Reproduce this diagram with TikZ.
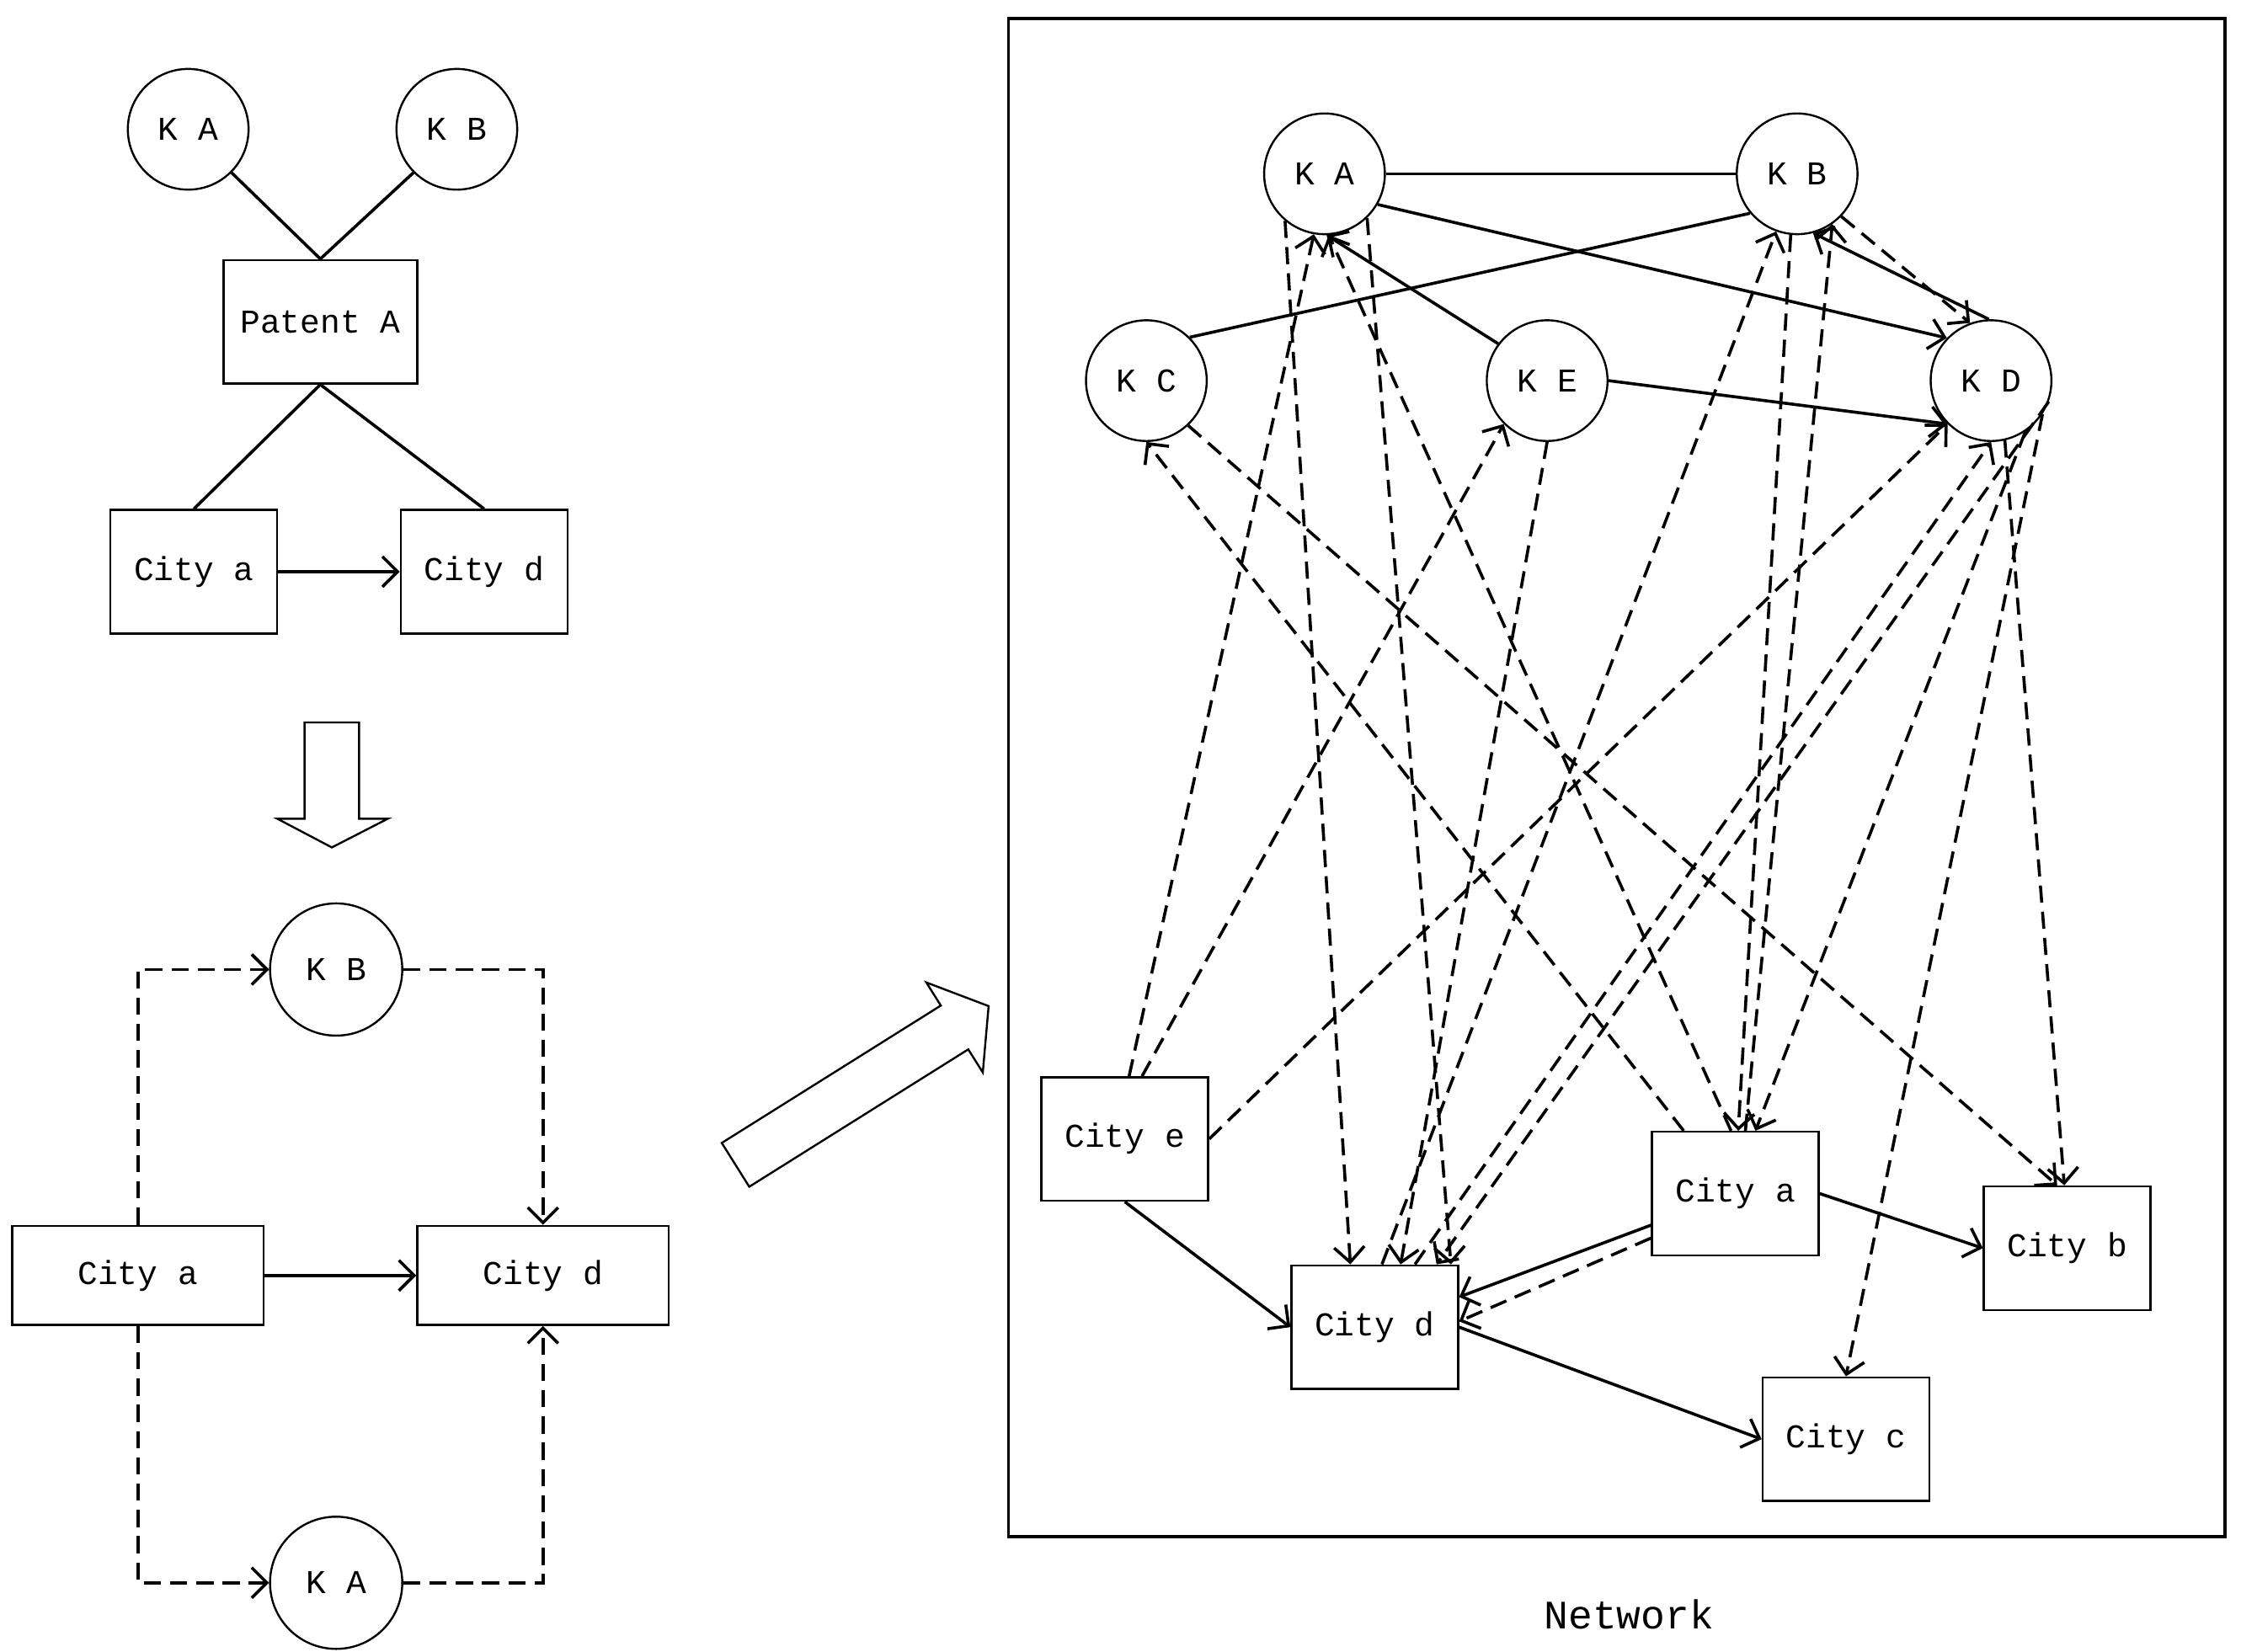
\documentclass[tikz,border=0pt]{standalone}
\usepackage{fontspec}
\setmainfont{Liberation Mono}
\usetikzlibrary{arrows.meta,calc}
\begin{document}
\begin{tikzpicture}[x=0.01cm,y=-0.01cm,
  every node/.style={font=\fontsize{6.6}{7}\selectfont},
  circ/.style={draw,circle,line width=0.4pt,minimum size=0.84cm,inner sep=0pt},
  bigcirc/.style={draw,circle,line width=0.4pt,minimum size=0.92cm,inner sep=0pt},
  box/.style={draw,rectangle,line width=0.4pt,minimum width=1.16cm,minimum height=0.86cm,inner sep=0pt},
  wbox/.style={draw,rectangle,line width=0.4pt,minimum width=1.75cm,minimum height=0.69cm,inner sep=0pt},
  sl/.style={line width=0.6pt},
  ar/.style={line width=0.6pt,-{Straight Barb[length=3pt,width=6pt]}},
  da/.style={line width=0.6pt,dash pattern=on 3.4pt off 1.8pt,-{Straight Barb[length=3pt,width=6pt]}},
  dl/.style={line width=0.6pt,dash pattern=on 3.4pt off 1.8pt}]
\useasboundingbox (0,0) rectangle (1560,1150);
% ---- top left
\node[circ] (tka) at (131,90) {K A};
\node[circ] (tkb) at (318,90) {K B};
\node[draw,rectangle,line width=0.4pt,minimum width=1.32cm,minimum height=0.86cm] (pat) at (223,224) {Patent A};
\node[box] (tca) at (135,398) {City a};
\node[box] (tcd) at (337,398) {City d};
\draw[sl] (tka.-45) -- (pat.north);
\draw[sl] (tkb.-135) -- (pat.north);
\draw[sl] (pat.south) -- (tca.north);
\draw[sl] (pat.south) -- (tcd.north);
\draw[ar] (tca) -- (tcd);
% down block arrow
\draw[line width=0.4pt] (212,503) -- (250,503) -- (250,570) -- (270,570) -- (231,590) -- (193,570) -- (212,570) -- cycle;
% ---- bottom left
\node[bigcirc] (bkb) at (234,675) {K B};
\node[bigcirc] (bka) at (234,1102) {K A};
\node[wbox] (bca) at (96,888) {City a};
\node[wbox] (bcd) at (378,888) {City d};
\coordinate (c1) at (96,675);
\coordinate (c2) at (378,675);
\coordinate (c3) at (96,1102);
\coordinate (c4) at (378,1102);
\draw[da] (bca.north) -- (c1) -- (bkb.west);
\draw[da] (bkb.east) -- (c2) -- (bcd.north);
\draw[da] (bca.south) -- (c3) -- (bka.west);
\draw[da] (bka.east) -- (c4) -- (bcd.south);
\draw[ar] (bca) -- (bcd);
% diagonal block arrow
\begin{scope}[shift={(512,811)},rotate=32.1]
\draw[line width=0.4pt] (0,18) -- (180,18) -- (180,37) -- (208,0) -- (180,-37) -- (180,-18) -- (0,-18) -- cycle;
\end{scope}
% ---- network
\draw[line width=0.6pt] (702,13) rectangle (1549,1070);
\node[font=\fontsize{8}{9}\selectfont] (net) at (1134,1124) {Network};
\node[circ] (ka) at (922,121) {K A};
\node[circ] (kb) at (1251,121) {K B};
\node[circ] (kc) at (798,265) {K C};
\node[circ] (ke) at (1077,265) {K E};
\node[circ] (kd) at (1386,265) {K D};
\node[box] (ce) at (783,793) {City e};
\node[box] (cd) at (957,924) {City d};
\node[box] (ca) at (1208,831) {City a};
\node[box] (cb) at (1439,869) {City b};
\node[box] (cc) at (1285,1002) {City c};
% solid
\draw[sl] (ka) -- (kb);
\draw[sl] (kb.-140) -- (kc.45);
\draw[ar] (ka.-30) -- (kd.136);
\draw[ar] (kd.92) -- (kb.-75);
\draw[ar] (ke.143) -- (ka.-88);
\draw[ar] (ke.0) -- (kd.-135);
\draw[ar] (ce.south) -- (cd.west);
\draw[ar] ($(ca.west)+(0,22)$) -- ($(cd.east)+(0,-21)$);
\draw[ar] (ca.east) -- (cb.west);
\draw[ar] (cd.east) -- (cc.west);
% dashed
\draw[da] (ka.230) -- ($(cd.north)+(-17,0)$);
\draw[da] (ka.-46) -- ($(cd.north)+(53,0)$);
\draw[da] ($(ce.north)+(3,0)$) -- (ka.-100);
\draw[da] ($(ce.north)+(12,0)$) -- (ke.-135);
\draw[da] (ce.east) -- (kd.-135);
\draw[da] (ke.-90) -- ($(cd.north)+(18,0)$);
\draw[da] (kc.-47) -- ($(cb.north)+(-7,0)$);
\draw[da] ($(ca.north)+(-36,0)$) -- (kc.-90);
\draw[da] ($(ca.north)+(-3,0)$) -- (ka.-86);
\draw[da] ($(cd.north)+(5,0)$) -- (kb.-110);
\draw[da] (kb.-96) -- ($(ca.north)+(2,0)$);
\draw[da] ($(ca.north)+(7,0)$) -- (kb.-55);
\draw[da] (kd.-56) -- ($(ca.north)+(14,0)$);
\draw[da] (kd.-33) -- (cc.north);
\draw[da] (kd.-77) -- ($(cb.north)+(-2,0)$);
\draw[da] ($(cd.north)+(28,0)$) -- (kd.-90);
\draw[da] (kd.-20) -- ($(cd.north)+(43,0)$);
\draw[da] (kb.-44) -- (kd.110);
\draw[da] ($(ca.west)+(0,31)$) -- ($(cd.east)+(0,-4)$);
\end{tikzpicture}
\end{document}
